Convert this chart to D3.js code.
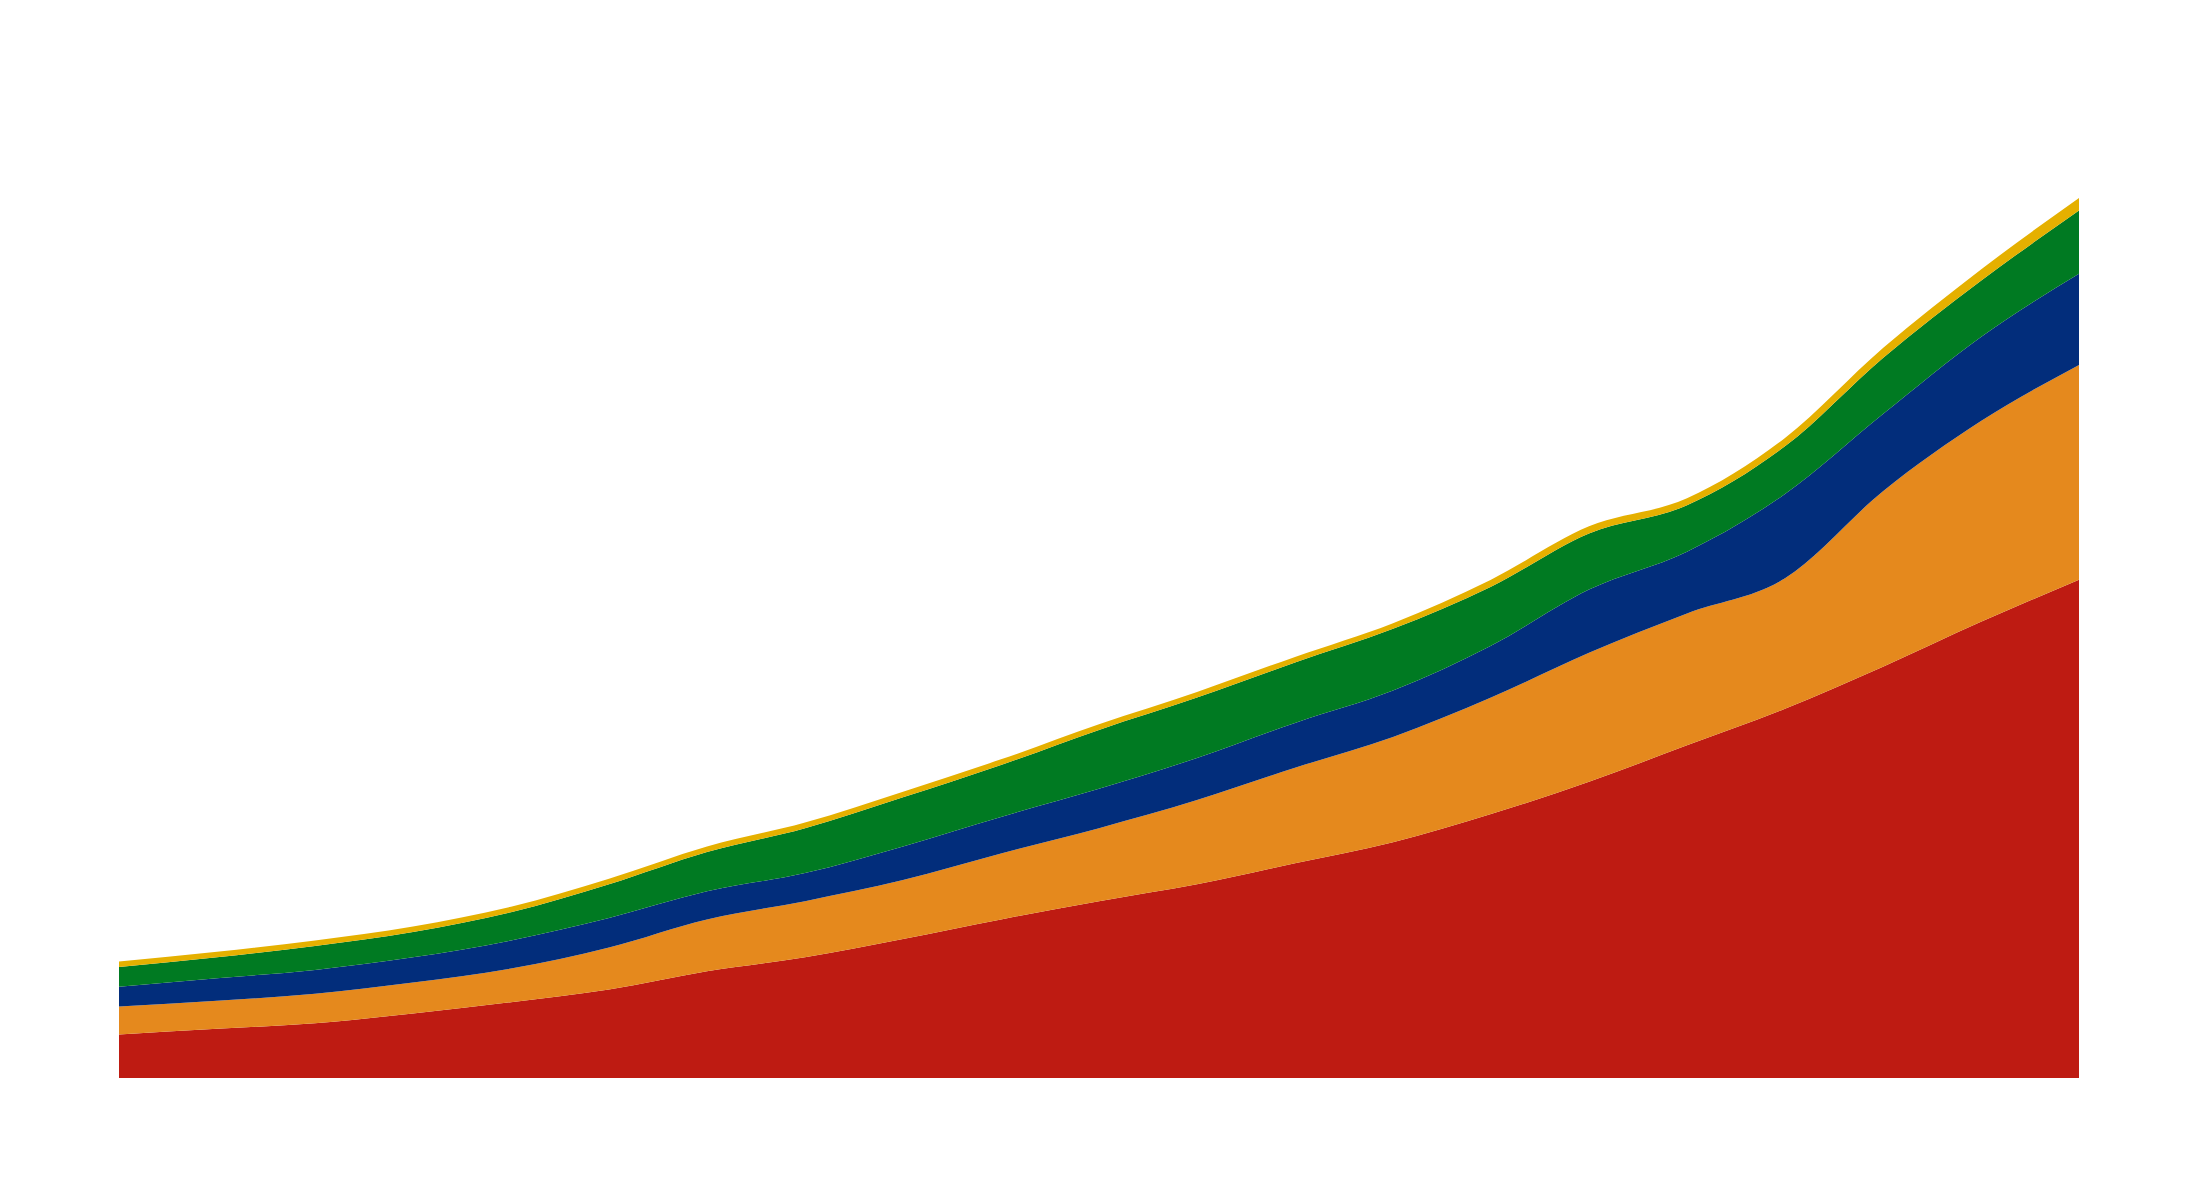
<!DOCTYPE html>
<html><head><meta charset="utf-8">
<script src="https://cdn.jsdelivr.net/npm/d3@7"></script>
<style>body{margin:0;background:#fff}</style></head>
<body><svg id="c" width="2200" height="1200"></svg>
<script>
const points = d3.range(21);
const red    = [31,35,39,46,54,63,76,86,99,113,126,138,153,168,188,211,237,263,293,325,355];
const orange = [20,20,21,22,24,30,37,40,42,47,52,60,68,75,83,92,94,93,125,143,153];
const blue   = [14,16,17,18,20,21,20,20,24,26,28,30,32,33,37,45,44,60,55,60,65];
const green  = [14,15,17,18,20,24,28,32,35,37,42,43,43,44,42,40,33,34,40,40,45];
const yellow = [4,4,4,4,4,4,4,4,4,4,4,4,4,4,5,5,5,6,7,8,9];
const seriesNames = ["red","orange","blue","green","yellow"];
const colors = ["#be1b12","#e5891d","#022d7b","#007a22","#e5b000"];
const arrays = [red,orange,blue,green,yellow];
const table = points.map((p,i)=>{const o={p};seriesNames.forEach((n,k)=>o[n]=arrays[k][i]);return o;});
const stack = d3.stack().keys(seriesNames)(table);
const x = d3.scaleLinear().domain([0,20]).range([119,2079]);
const y = d3.scaleLinear().domain([0,768]).range([1078,0]);
const area = d3.area().x(d=>x(d.data.p)).y0(d=>y(d[0])).y1(d=>y(d[1])).curve(d3.curveMonotoneX);
d3.select("#c").selectAll("path").data(stack).join("path")
  .attr("d",area).attr("fill",(d,i)=>colors[i]);
</script></body></html>
